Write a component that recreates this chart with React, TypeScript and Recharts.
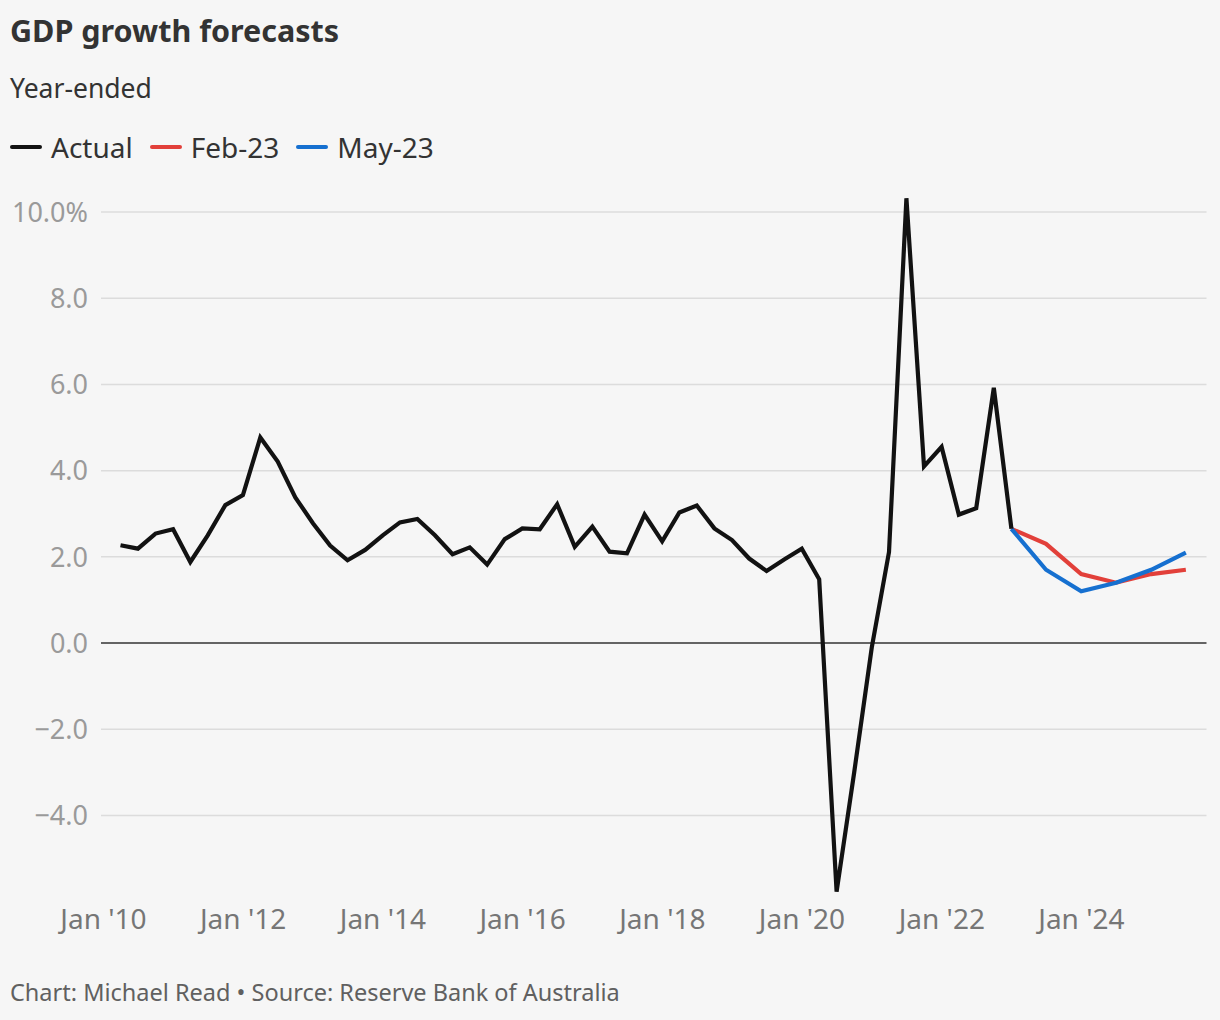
import { Line, LineChart, ReferenceLine, XAxis, YAxis } from "recharts";

// Quarter-end dates for the ABS outcomes
const actualDates = [
  "2010-03-31", "2010-06-30", "2010-09-30", "2010-12-31",
  "2011-03-31", "2011-06-30", "2011-09-30", "2011-12-31",
  "2012-03-31", "2012-06-30", "2012-09-30", "2012-12-31",
  "2013-03-31", "2013-06-30", "2013-09-30", "2013-12-31",
  "2014-03-31", "2014-06-30", "2014-09-30", "2014-12-31",
  "2015-03-31", "2015-06-30", "2015-09-30", "2015-12-31",
  "2016-03-31", "2016-06-30", "2016-09-30", "2016-12-31",
  "2017-03-31", "2017-06-30", "2017-09-30", "2017-12-31",
  "2018-03-31", "2018-06-30", "2018-09-30", "2018-12-31",
  "2019-03-31", "2019-06-30", "2019-09-30", "2019-12-31",
  "2020-03-31", "2020-06-30", "2020-09-30", "2020-12-31",
  "2021-03-31", "2021-06-30", "2021-09-30", "2021-12-31",
  "2022-03-31", "2022-06-30", "2022-09-30", "2022-12-31",
];

// Year-ended GDP growth, %
const actualGrowth = [
  2.27, 2.19, 2.54, 2.64, 1.88, 2.5, 3.2, 3.43, 4.77, 4.21, 3.38, 2.78, 2.26,
  1.92, 2.16, 2.5, 2.8, 2.88, 2.5, 2.06, 2.22, 1.82, 2.41, 2.66, 2.64, 3.22,
  2.23, 2.7, 2.12, 2.08, 2.98, 2.36, 3.03, 3.19, 2.66, 2.39, 1.96, 1.67, 1.94,
  2.19, 1.48, -5.77, -3.0, -0.1, 2.11, 10.32, 4.1, 4.55, 2.98, 3.13, 5.92, 2.65,
];

// RBA Statement on Monetary Policy forecasts (half-yearly)
const forecastDates = [
  "2022-12-31", "2023-06-30", "2023-12-31", "2024-06-30", "2024-12-31", "2025-06-30",
];
const febForecast = [2.65, 2.3, 1.6, 1.4, 1.6, 1.7];
const mayForecast = [2.65, 1.7, 1.2, 1.4, 1.7, 2.1];

const yTicks = [-4, -2, 0, 2, 4, 6, 8, 10];
const xTickYears = [2010, 2012, 2014, 2016, 2018, 2020, 2022, 2024];

const toTime = (iso: string) => new Date(iso + "T00:00:00Z").getTime();

type Row = { date: number; actual?: number; feb?: number; may?: number };

const rowMap = new Map<number, Row>();
const rowFor = (iso: string) => {
  const t = toTime(iso);
  if (!rowMap.has(t)) rowMap.set(t, { date: t });
  return rowMap.get(t)!;
};
actualDates.forEach((d, i) => (rowFor(d).actual = actualGrowth[i]));
forecastDates.forEach((d, i) => {
  rowFor(d).feb = febForecast[i];
  rowFor(d).may = mayForecast[i];
});
const data = [...rowMap.values()].sort((a, b) => a.date - b.date);

const FONT = "'Noto Sans', sans-serif";
const BLACK = "#121212";
const RED = "#e2403a";
const BLUE = "#1670d0";
const LINE_W = 4.2;

const fmtY = (v: number) => {
  const s = Math.abs(v).toFixed(1);
  if (v === 10) return s + "%";
  return v < 0 ? "\u2212" + s : s;
};

const YTick = (props: any) => {
  const { x, y, payload } = props;
  return (
    <text x={x - 5} y={y} dy="0.36em" textAnchor="end" fill="#9a9a9a" fontSize={27} fontFamily={FONT}>
      {fmtY(payload.value)}
    </text>
  );
};

const XTick = (props: any) => {
  const { x, y, payload } = props;
  const yr = new Date(payload.value).getUTCFullYear();
  return (
    <text x={x} y={y} dy={28} textAnchor="middle" fill="#767676" fontSize={28} fontFamily={FONT}>
      {"Jan '" + String(yr).slice(2)}
    </text>
  );
};

const legendItems = [
  { label: "Actual", color: BLACK },
  { label: "Feb-23", color: RED },
  { label: "May-23", color: BLUE },
];

export default function App() {
  return (
    <div
      style={{
        position: "absolute",
        top: 0,
        left: 0,
        width: 1220,
        height: 1020,
        background: "#f6f6f6",
        fontFamily: FONT,
        overflow: "hidden",
      }}
    >
      <LineChart
        width={1220}
        height={1020}
        data={data}
        margin={{ top: 194.8, right: 13.5, bottom: 87, left: 0 }}
      >
        <XAxis
          dataKey="date"
          type="number"
          scale="time"
          domain={[toTime("2009-12-19"), toTime("2025-10-16")]}
          ticks={xTickYears.map((y) => Date.UTC(y, 0, 1))}
          tick={<XTick />}
          tickLine={false}
          axisLine={false}
          height={40}
        />
        <YAxis
          type="number"
          domain={[-5.8, 10.4]}
          ticks={yTicks}
          tick={<YTick />}
          tickLine={false}
          axisLine={false}
          width={101}
          allowDataOverflow
        />
        {/* horizontal gridlines, zero line darker */}
        {yTicks.map((v) => (
          <ReferenceLine
            key={v}
            y={v}
            stroke={v === 0 ? "#333" : "#dcdcdc"}
            strokeWidth={1.5}
          />
        ))}
        <Line
          dataKey="feb"
          stroke={RED}
          strokeWidth={LINE_W}
          dot={false}
          activeDot={false}
          connectNulls
          isAnimationActive={false}
        />
        <Line
          dataKey="may"
          stroke={BLUE}
          strokeWidth={LINE_W}
          dot={false}
          activeDot={false}
          connectNulls
          isAnimationActive={false}
        />
        <Line
          dataKey="actual"
          stroke={BLACK}
          strokeWidth={LINE_W}
          dot={false}
          activeDot={false}
          isAnimationActive={false}
        />
      </LineChart>

      <div
        style={{
          position: "absolute",
          left: 10,
          top: 15,
          fontSize: 30.5,
          lineHeight: "30.5px",
          fontWeight: 700,
          color: "#333",
          whiteSpace: "nowrap",
        }}
      >
        GDP growth forecasts
      </div>
      <div
        style={{
          position: "absolute",
          left: 10,
          top: 74.5,
          fontSize: 26.5,
          lineHeight: "26.5px",
          color: "#333",
        }}
      >
        Year-ended
      </div>
      <div
        style={{
          position: "absolute",
          left: 10,
          top: 132.5,
          display: "flex",
          alignItems: "center",
          fontSize: 28,
          lineHeight: "28px",
          color: "#333",
        }}
      >
        {legendItems.map((it) => (
          <div key={it.label} style={{ display: "flex", alignItems: "center", marginRight: 17 }}>
            <span
              style={{
                display: "inline-block",
                width: 32,
                height: 4,
                borderRadius: 2,
                background: it.color,
                marginRight: 9,
              }}
            />
            <span>{it.label}</span>
          </div>
        ))}
      </div>
      <div
        style={{
          position: "absolute",
          left: 10,
          top: 981,
          fontSize: 23.5,
          lineHeight: "23.5px",
          color: "#606060",
          whiteSpace: "nowrap",
        }}
      >
        Chart: Michael Read • Source: Reserve Bank of Australia
      </div>
    </div>
  );
}
